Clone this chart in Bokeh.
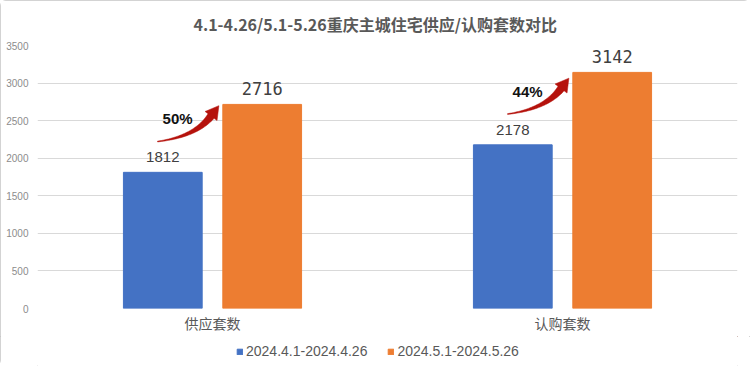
import numpy as np
from bokeh.plotting import figure
from bokeh.layouts import column
from bokeh.models import Range1d, FixedTicker, ColumnDataSource, Legend, LegendItem, Title
from bokeh.embed import file_html
from bokeh.resources import INLINE
from bokeh.core.properties import value

# ---------------- data ----------------
categories = ["供应套数", "认购套数"]
series_names = ["2024.4.1-2024.4.26", "2024.5.1-2024.5.26"]
period1 = [1812, 2178]
period2 = [2716, 3142]
growth_labels = ["50%", "44%"]
y_ticks = [0, 500, 1000, 1500, 2000, 2500, 3000, 3500]
chart_title = "4.1-4.26/5.1-5.26重庆主城住宅供应/认购套数对比"

BLUE = "#4472C4"
ORANGE = "#ED7D31"

W = 750
H_MAIN, H_LEG = 336, 30
L, R, T, B = 37, 13, 45, 28
YMAX = 3500

p = figure(width=W, height=H_MAIN, output_backend="svg", toolbar_location=None,
           x_range=Range1d(0, len(categories)), y_range=Range1d(0, YMAX),
           min_border_left=L, min_border_right=R, min_border_top=T, min_border_bottom=B,
           background_fill_color="white", border_fill_color="white")
p.outline_line_color = None

ttl = Title(text=chart_title, align="left", text_font="Noto Sans CJK SC",
            text_font_size="16px", text_font_style="bold", text_color="#595959",
            offset=156, standoff=19)
p.add_layout(ttl, "above")

# pixel scale of the frame
kx = (W - L - R) / len(categories)
ky = (H_MAIN - T - B) / YMAX

xs = [i + 0.5 for i in range(len(categories))]
offs = 0.142
bw = 0.225

src = ColumnDataSource(dict(
    x1=[x - offs for x in xs], x2=[x + offs for x in xs],
    v1=period1, v2=period2,
    t1=[str(v) for v in period1], t2=[str(v) for v in period2],
))

r1 = p.vbar(x="x1", top="v1", width=bw, color=BLUE, source=src)
r2 = p.vbar(x="x2", top="v2", width=bw, color=ORANGE, source=src)

p.text(x="x1", y="v1", text="t1", source=src, text_align="center", text_baseline="middle",
       y_offset=-15, text_font=value("Liberation Sans"), text_font_size="15px", text_color="#404040")
p.text(x="x2", y="v2", text="t2", source=src, text_align="center", text_baseline="middle",
       y_offset=-16, text_font=value("DejaVu Sans Mono"), text_font_size="17px", text_color="#404040")

# ---------------- curved arrows ----------------
def arrow_shape(x0, y0):
    P0 = np.array([0.0, 0.0])
    C = np.array([38.0, 5.0])
    P2 = np.array([53.5, 25.5])
    t = np.linspace(0, 1, 40)
    pts = ((1 - t) ** 2)[:, None] * P0 + (2 * (1 - t) * t)[:, None] * C + (t ** 2)[:, None] * P2
    der = (2 * (1 - t))[:, None] * (C - P0) + (2 * t)[:, None] * (P2 - C)
    nrm = np.linalg.norm(der, axis=1)[:, None]
    d = der / nrm
    n = np.stack([-d[:, 1], d[:, 0]], axis=1)
    w = 0.4 + 3.4 * t ** 1.3
    upper = pts + n * w[:, None]
    lower = pts - n * w[:, None]
    tip = P2 + d[-1] * 13
    hl = P2 + n[-1] * 7.5
    hr = P2 - n[-1] * 7.5
    poly = np.vstack([upper, hl[None], tip[None], hr[None], lower[::-1]])
    return list(x0 + poly[:, 0] / kx), list(y0 + poly[:, 1] / ky)

arrow_xs, arrow_ys = [], []
tail_x, tail_y = [], []
for i in range(len(categories)):
    x0 = xs[i] - offs - 0.015
    y0 = period1[i] + 410
    ax, ay = arrow_shape(x0, y0)
    arrow_xs.append(ax)
    arrow_ys.append(ay)
    tail_x.append(x0)
    tail_y.append(y0)

p.patches(xs=arrow_xs, ys=arrow_ys, fill_color="#B5120C", line_color="#B5120C", line_width=0.5)
p.text(x=tail_x, y=tail_y, text=growth_labels, x_offset=20, y_offset=-23,
       text_align="center", text_baseline="middle", text_font=value("Liberation Sans"),
       text_font_size="15px", text_font_style="bold", text_color="#111111")

# ---------------- axes & grid ----------------
p.xgrid.grid_line_color = None
p.ygrid.grid_line_color = "#d9d9d9"
p.ygrid.ticker = FixedTicker(ticks=y_ticks)

p.yaxis.ticker = FixedTicker(ticks=y_ticks)
p.yaxis.axis_line_color = None
p.yaxis.major_tick_line_color = None
p.yaxis.minor_tick_line_color = None
p.yaxis.major_tick_out = 0
p.yaxis.minor_tick_out = 0
p.yaxis.major_label_standoff = 9
p.yaxis.major_label_text_font = "Liberation Sans"
p.yaxis.major_label_text_font_size = "10px"
p.yaxis.major_label_text_color = "#8c8c8c"

p.xaxis.ticker = FixedTicker(ticks=xs)
p.xaxis.major_label_overrides = {x: c for x, c in zip(xs, categories)}
p.xaxis.axis_line_color = None
p.xaxis.major_tick_line_color = None
p.xaxis.minor_tick_line_color = None
p.xaxis.major_tick_out = 0
p.xaxis.minor_tick_out = 0
p.xaxis.major_label_standoff = 4
p.xaxis.major_label_text_font = "Noto Sans CJK SC"
p.xaxis.major_label_text_font_size = "14px"
p.xaxis.major_label_text_color = "#595959"

# ---------------- legend strip ----------------
pl = figure(width=W, height=H_LEG, output_backend="svg", toolbar_location=None,
            x_range=Range1d(0, 1), y_range=Range1d(0, 1),
            x_axis_type=None, y_axis_type=None,
            min_border_left=0, min_border_right=0, min_border_top=0, min_border_bottom=0,
            background_fill_color="white", border_fill_color="white")
pl.outline_line_color = None
pl.grid.visible = False
# legend swatch renderers: their single point lies outside the strip's view
lr1 = pl.vbar(x=[5], top=[5], bottom=[4], width=0.1, color=BLUE)
lr2 = pl.vbar(x=[5], top=[5], bottom=[4], width=0.1, color=ORANGE)

legend = Legend(items=[LegendItem(label=series_names[0], renderers=[lr1]),
                       LegendItem(label=series_names[1], renderers=[lr2])],
                orientation="horizontal", location=(199, 7))
legend.border_line_color = None
legend.background_fill_alpha = 0
legend.label_text_font = "Liberation Sans"
legend.label_text_font_size = "14px"
legend.label_text_color = "#595959"
legend.glyph_width = 7
legend.glyph_height = 7
legend.label_standoff = 3
legend.spacing = 20
legend.margin = 0
legend.padding = 4
pl.add_layout(legend, "center")

layout = column(p, pl, spacing=0,
                styles={"outline": "1px solid #c4c4c4", "outline-offset": "-1px",
                        "border-radius": "6px"})
open("out.html", "w").write(file_html(layout, INLINE))
